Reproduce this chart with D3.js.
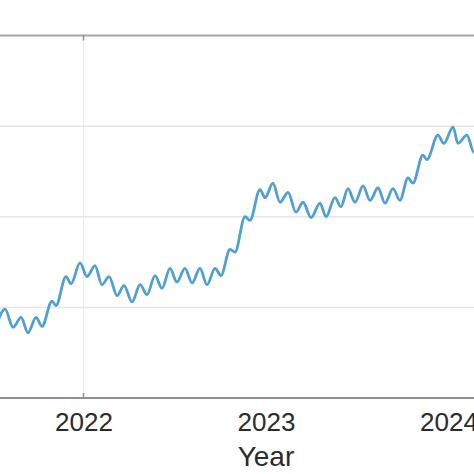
<!DOCTYPE html>
<html>
<head>
<meta charset="utf-8">
<script src="https://cdn.jsdelivr.net/npm/d3@7"></script>
<style>
  html, body { margin: 0; padding: 0; background: #fff; }
  svg { display: block; }
</style>
</head>
<body>
<svg></svg>
<script>
// Data (decimal years, values in grid units)
const years = [
  2021.526, 2021.570, 2021.614, 2021.658, 2021.696, 2021.740, 2021.773, 2021.827,
  2021.849, 2021.904, 2021.932, 2021.981, 2022.019, 2022.063, 2022.101, 2022.140,
  2022.184, 2022.222, 2022.266, 2022.310, 2022.348, 2022.392, 2022.430, 2022.474,
  2022.512, 2022.556, 2022.595, 2022.638, 2022.677, 2022.721, 2022.753, 2022.803,
  2022.830, 2022.885, 2022.912, 2022.967, 2022.995, 2023.038, 2023.077, 2023.121,
  2023.164, 2023.203, 2023.247, 2023.296, 2023.329, 2023.378, 2023.411, 2023.449,
  2023.488, 2023.532, 2023.570, 2023.614, 2023.652, 2023.696, 2023.734, 2023.778,
  2023.805, 2023.860, 2023.882, 2023.942, 2023.975, 2024.025, 2024.052, 2024.101,
  2024.140, 2024.184
];
const values = [
  0.82, 0.98, 0.78, 0.89, 0.72, 0.89, 0.79, 1.07,
  1.02, 1.34, 1.26, 1.49, 1.34, 1.46, 1.25, 1.34,
  1.13, 1.24, 1.06, 1.25, 1.14, 1.35, 1.21, 1.43,
  1.28, 1.43, 1.27, 1.43, 1.25, 1.43, 1.35, 1.64,
  1.61, 2.00, 1.96, 2.30, 2.21, 2.37, 2.16, 2.27,
  2.05, 2.16, 1.99, 2.15, 2.00, 2.21, 2.11, 2.31,
  2.16, 2.34, 2.18, 2.32, 2.15, 2.31, 2.18, 2.43,
  2.37, 2.68, 2.63, 2.90, 2.81, 2.99, 2.81, 2.90,
  2.71, 2.79
];
const xTicks = [2022, 2023, 2024];
const xGridTicks = [2022];
const yGridTicks = [1, 2, 3];
const xLabel = "Year";

// Setting the dimensions (plot area runs past the left and right edges)
const width = 474;
const height = 474;
const plotTop = 35.5;
const plotBottom = 398;

const svg = d3.select("svg").attr("width", width).attr("height", height);

const x = d3.scaleLinear().domain([2021.5, 2024.25]).range([-7.75, 494.1]);
const y = d3.scaleLinear().domain([0, 4]).range([plotBottom, plotTop]);

const font = "'Liberation Sans', Arial, Helvetica, sans-serif";

// Grid lines
svg
  .selectAll("line.ygrid")
  .data(yGridTicks)
  .enter()
  .append("line")
  .attr("class", "ygrid")
  .attr("x1", 0)
  .attr("x2", width)
  .attr("y1", (d) => y(d))
  .attr("y2", (d) => y(d))
  .attr("stroke", "#e6e6e6")
  .attr("stroke-width", 1.5);

svg
  .selectAll("line.xgrid")
  .data(xGridTicks)
  .enter()
  .append("line")
  .attr("class", "xgrid")
  .attr("x1", (d) => x(d))
  .attr("x2", (d) => x(d))
  .attr("y1", plotTop)
  .attr("y2", plotBottom)
  .attr("stroke", "#ececec")
  .attr("stroke-width", 1.2);

// The line
const line = d3
  .line()
  .x((d) => x(d[0]))
  .y((d) => y(d[1]))
  .curve(d3.curveMonotoneX);

svg
  .append("path")
  .datum(d3.zip(years, values))
  .attr("d", line)
  .attr("fill", "none")
  .attr("stroke", "#519fd0")
  .attr("stroke-width", 2.8)
  .attr("stroke-linejoin", "round");

// Box lines (top and bottom)
svg
  .append("line")
  .attr("x1", 0)
  .attr("x2", width)
  .attr("y1", plotTop)
  .attr("y2", plotTop)
  .attr("stroke", "#a6a6a6")
  .attr("stroke-width", 2);

// Bottom axis with inward ticks only at the gridline year
const xAxis = d3
  .axisBottom(x)
  .tickValues(xTicks)
  .tickFormat(d3.format("d"))
  .tickSize(0)
  .tickPadding(15);

const axisG = svg
  .append("g")
  .attr("transform", `translate(0, ${plotBottom})`)
  .call(xAxis);

axisG.select(".domain").remove();
axisG
  .selectAll("text")
  .attr("font-family", font)
  .attr("font-size", 26)
  .attr("fill", "#2b2b2b");

svg
  .append("line")
  .attr("x1", 0)
  .attr("x2", width)
  .attr("y1", plotBottom)
  .attr("y2", plotBottom)
  .attr("stroke", "#909090")
  .attr("stroke-width", 2);

svg
  .selectAll("line.tickmark")
  .data(xGridTicks.flatMap((d) => [[d, plotBottom, -5], [d, plotTop, 5]]))
  .enter()
  .append("line")
  .attr("class", "tickmark")
  .attr("x1", (d) => x(d[0]))
  .attr("x2", (d) => x(d[0]))
  .attr("y1", (d) => d[1])
  .attr("y2", (d) => d[1] + d[2])
  .attr("stroke", "#909090")
  .attr("stroke-width", 1.5);

// Axis label
svg
  .append("text")
  .attr("x", x(2023))
  .attr("y", 466)
  .attr("text-anchor", "middle")
  .attr("font-family", font)
  .attr("font-size", 28)
  .attr("fill", "#2b2b2b")
  .text(xLabel);
</script>
</body>
</html>
